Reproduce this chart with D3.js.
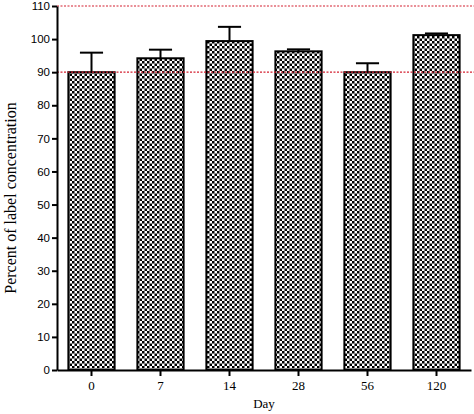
<!DOCTYPE html>
<html>
<head>
<meta charset="utf-8">
<script src="https://cdn.jsdelivr.net/npm/d3@7"></script>
<style>
  body { margin: 0; background: #fff; }
</style>
</head>
<body>
<div id="chart"></div>
<script>
// data
var days = ["0", "7", "14", "28", "56", "120"];
var means = [90, 94.2, 99.4, 96.3, 90, 101.2];
var errTops = [95.9, 96.8, 103.7, 96.9, 92.7, 101.7];
var yTicks = [0, 10, 20, 30, 40, 50, 60, 70, 80, 90, 100, 110];
var limits = [90, 110];

var W = 474, H = 414;
var margin = { top: 6, right: 3, bottom: 44, left: 57 };
var width = W - margin.left - margin.right,
    height = H - margin.top - margin.bottom;

var svg = d3.select("#chart").append("svg")
    .attr("width", W)
    .attr("height", H);

// checker fill
var defs = svg.append("defs");
var pat = defs.append("pattern")
    .attr("id", "checker")
    .attr("patternUnits", "userSpaceOnUse")
    .attr("width", 5).attr("height", 5);
pat.append("rect").attr("width", 5).attr("height", 5).attr("fill", "#fff");
pat.append("rect").attr("width", 2.5).attr("height", 2.5).attr("fill", "#000");
pat.append("rect").attr("x", 2.5).attr("y", 2.5).attr("width", 2.5).attr("height", 2.5).attr("fill", "#000");

var g = svg.append("g")
    .attr("transform", "translate(" + margin.left + "," + margin.top + ")");

var x = d3.scaleBand()
    .domain(days)
    .range([0, width])
    .paddingInner(0.33)
    .paddingOuter(0.165);

var y = d3.scaleLinear()
    .domain([0, 110])
    .range([height, 0]);

// bars
g.selectAll("rect.bar")
    .data(means).enter()
    .append("rect")
    .attr("class", "bar")
    .attr("x", function (d, i) { return x(days[i]); })
    .attr("y", function (d) { return y(d); })
    .attr("width", x.bandwidth())
    .attr("height", function (d) { return height - y(d); })
    .attr("fill", "url(#checker)")
    .attr("stroke", "#000")
    .attr("stroke-width", 2);

// error bars (upper only)
var capW = x.bandwidth() * 0.5;
g.selectAll("line.err")
    .data(errTops).enter()
    .append("line")
    .attr("class", "err")
    .attr("x1", function (d, i) { return x(days[i]) + x.bandwidth() / 2; })
    .attr("x2", function (d, i) { return x(days[i]) + x.bandwidth() / 2; })
    .attr("y1", function (d, i) { return y(means[i]); })
    .attr("y2", function (d) { return y(d); })
    .attr("stroke", "#000")
    .attr("stroke-width", 2);
g.selectAll("line.cap")
    .data(errTops).enter()
    .append("line")
    .attr("class", "cap")
    .attr("x1", function (d, i) { return x(days[i]) + x.bandwidth() / 2 - capW / 2; })
    .attr("x2", function (d, i) { return x(days[i]) + x.bandwidth() / 2 + capW / 2; })
    .attr("y1", function (d) { return y(d); })
    .attr("y2", function (d) { return y(d); })
    .attr("stroke", "#000")
    .attr("stroke-width", 2);

// red dashed limit lines
g.selectAll("line.limit")
    .data(limits).enter()
    .append("line")
    .attr("class", "limit")
    .attr("x1", 0)
    .attr("x2", width + margin.right)
    .attr("y1", function (d) { return y(d); })
    .attr("y2", function (d) { return y(d); })
    .attr("stroke", "#d42030")
    .attr("stroke-width", 1.2)
    .attr("stroke-dasharray", "2,1.5");

// axes
var yAxis = g.append("g")
    .attr("class", "y axis")
    .call(d3.axisLeft(y).tickValues(yTicks).tickSize(5).tickSizeOuter(0).tickPadding(2));
var xAxis = g.append("g")
    .attr("class", "x axis")
    .attr("transform", "translate(0," + height + ")")
    .call(d3.axisBottom(x).tickSize(6).tickSizeOuter(0).tickPadding(5));

d3.selectAll(".axis path, .axis line").style("stroke", "#000").style("stroke-width", "2px");
yAxis.selectAll("text")
    .style("font-family", "'Liberation Sans', Arial, sans-serif")
    .style("font-size", "11.5px")
    .style("fill", "#000");
xAxis.selectAll("text")
    .style("font-family", "'Liberation Serif', 'Times New Roman', serif")
    .style("font-size", "13px")
    .style("fill", "#000");

// axis titles
svg.append("text")
    .attr("x", margin.left + width / 2)
    .attr("y", 408)
    .attr("text-anchor", "middle")
    .style("font-family", "'Liberation Serif', 'Times New Roman', serif")
    .style("font-size", "13px")
    .text("Day");

svg.append("text")
    .attr("transform", "rotate(-90)")
    .attr("x", -198)
    .attr("y", 16)
    .attr("text-anchor", "middle")
    .style("font-family", "'Liberation Serif', 'Times New Roman', serif")
    .style("font-size", "16px")
    .text("Percent of label concentration");
</script>
</body>
</html>
